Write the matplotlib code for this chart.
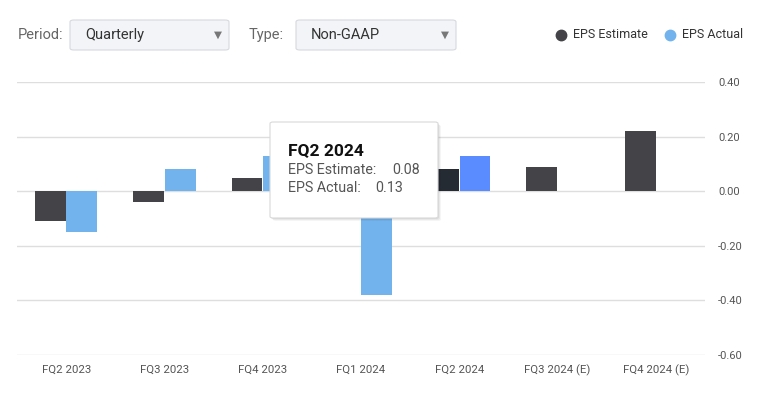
import matplotlib
matplotlib.use('Agg')
import matplotlib.pyplot as plt
from matplotlib.patches import FancyBboxPatch
from matplotlib.lines import Line2D
import numpy as np

# Chart data
quarters = ['FQ2 2023', 'FQ3 2023', 'FQ4 2023', 'FQ1 2024', 'FQ2 2024', 'FQ3 2024 (E)', 'FQ4 2024 (E)']
eps_estimate = [-0.11, -0.04, 0.05, 0.02, 0.08, 0.09, 0.22]
eps_actual = [-0.15, 0.08, 0.13, -0.38, 0.13, np.nan, np.nan]
y_ticks = [-0.60, -0.40, -0.20, 0.00, 0.20, 0.40]
hover_idx = 4

# Colours
est_color = '#434348'
act_color = '#72b3ee'
est_hover = '#252b33'
act_hover = '#5a8bff'
text_grey = '#555555'

plt.rcParams['font.family'] = ['Roboto', 'DejaVu Sans']

W, H = 762, 396
fig = plt.figure(figsize=(W / 100, H / 100), dpi=100)


def px(x, y):
    """Pixel (top-left origin) to figure fraction."""
    return x / W, 1 - y / H


# plot area: x 17..705, y 82..355
ax = fig.add_axes([17 / W, 1 - 355 / H, (705 - 17) / W, (355 - 82) / H])
x = np.arange(len(quarters))
bw = 0.315
est_cols = [est_hover if i == hover_idx else est_color for i in range(len(quarters))]
act_cols = [act_hover if i == hover_idx else act_color for i in range(len(quarters))]
ax.bar(x - 0.16, eps_estimate, bw, color=est_cols, zorder=3)
ax.bar(x + 0.16, eps_actual, bw, color=act_cols, zorder=3)

ax.set_xlim(-0.5, len(quarters) - 0.5)
ax.set_ylim(-0.6, 0.4)
ax.set_yticks(y_ticks)
ax.set_yticklabels([f'{v:.2f}' for v in y_ticks])
ax.yaxis.tick_right()
ax.tick_params(axis='y', length=0, pad=9.5, labelsize=8, labelcolor=text_grey)
ax.set_xticks(x)
ax.set_xticklabels(quarters)
ax.tick_params(axis='x', length=0, pad=7, labelsize=8.2, labelcolor=text_grey)
ax.grid(axis='y', color='#dedede', linewidth=1, zorder=0)
for s in ax.spines.values():
    s.set_visible(False)

# Controls at the top
fig.text(*px(18, 35), 'Period:', fontsize=10.5, color='#666666', va='center')
fig.text(*px(249, 35), 'Type:', fontsize=10.5, color='#666666', va='center')
for x0, x1, label in [(70, 229, 'Quarterly'), (296, 456, 'Non-GAAP')]:
    bx, by = px(x0, 50)
    box = FancyBboxPatch((bx, by), (x1 - x0) / W, 30 / H,
                         boxstyle='round,pad=0,rounding_size=0.005',
                         transform=fig.transFigure, facecolor='#f3f4f7',
                         edgecolor='#d6d9de', linewidth=0.8)
    fig.add_artist(box)
    fig.text(*px(x0 + 15, 35), label, fontsize=10.5, color='#333333', va='center')
    fig.text(*px(x1 - 11, 35), '▼', fontsize=7.5, color='#777777', va='center', ha='center',
             family=['DejaVu Sans'])

# Legend
for lx, label, c in [(561, 'EPS Estimate', est_color), (670, 'EPS Actual', act_color)]:
    fig.add_artist(Line2D([lx / W], [1 - 35 / H], marker='o', markersize=7.5, color=c,
                          linestyle='none', transform=fig.transFigure))
    fig.text(*px(lx + 12, 35), label, fontsize=9, color='#333333', va='center')

# Tooltip (with a faint shadow)
tx, ty = px(270, 218)
for off, a in [(3, 0.04), (2, 0.05), (1, 0.06)]:
    sh = FancyBboxPatch((tx + off / W, ty - off / H), 168 / W, 96 / H,
                        boxstyle='round,pad=0,rounding_size=0.004',
                        transform=fig.transFigure, facecolor='black', alpha=a,
                        edgecolor='none', zorder=4)
    fig.add_artist(sh)
tip = FancyBboxPatch((tx, ty), 168 / W, 96 / H,
                     boxstyle='round,pad=0,rounding_size=0.004',
                     transform=fig.transFigure, facecolor='white',
                     edgecolor='#d9d9d9', linewidth=0.8, zorder=5)
fig.add_artist(tip)
fig.text(*px(288, 151), quarters[hover_idx], fontsize=12.5, fontweight='bold', color='#111111',
         va='center', zorder=6)
fig.text(*px(288, 170), 'EPS Estimate:', fontsize=10.3, color='#555555', va='center', zorder=6)
fig.text(*px(392, 170), f'{eps_estimate[hover_idx]:.2f}', fontsize=10.3, color='#555555',
         va='center', zorder=6)
fig.text(*px(288, 188), 'EPS Actual:', fontsize=10.3, color='#555555', va='center', zorder=6)
fig.text(*px(375, 188), f'{eps_actual[hover_idx]:.2f}', fontsize=10.3, color='#555555',
         va='center', zorder=6)

fig.savefig('out.png', dpi=100)
